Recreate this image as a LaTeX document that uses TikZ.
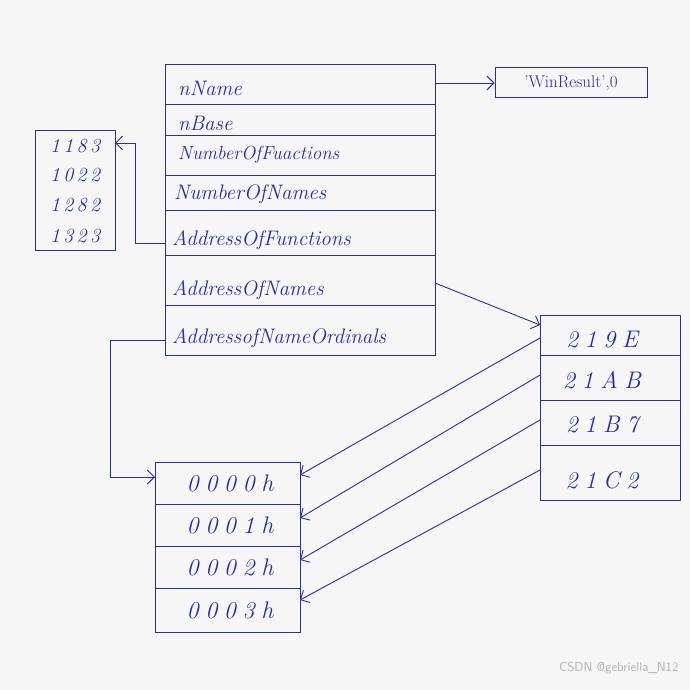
\documentclass[tikz,border=0pt]{standalone}
\usetikzlibrary{arrows.meta}
\definecolor{ink}{RGB}{40,45,160}
\begin{document}
\begin{tikzpicture}[x=1pt,y=-1pt,
  box/.style={draw=ink,line width=1pt},
  lbl/.style={text=ink,font=\itshape\fontsize{21}{23}\selectfont,anchor=west,inner sep=0pt},
  num/.style={text=ink,font=\itshape\fontsize{20}{22}\selectfont,inner sep=0pt},
  arr/.style={draw=ink,line width=0.9pt,-{Straight Barb[length=7pt]}}]
\fill[white!93!gray] (0,0) rectangle (690,690);
\useasboundingbox (0,0) rectangle (690,690);
% main table
\draw[box] (165,65) rectangle (435,355);
\foreach \y in {105,135,175,210,255,305} \draw[box] (165,\y) -- (435,\y);
\node[lbl] (nn) at (178,88) {nName};
\node[lbl] (nb) at (178,123) {nBase};
\node[lbl,font=\itshape\fontsize{19}{21}\selectfont] (nf) at (178,155) {NumberOfFuactions};
\node[lbl] (nm) at (174,194) {NumberOfNames};
\node[lbl] (af) at (172,240) {AddressOfFunctions};
\node[lbl] (an) at (172,290) {AddressOfNames};
\node[lbl] (ao) at (172,338) {AddressofNameOrdinals};
\coordinate (tnR) at (435,83);
\coordinate (afL) at (165,243);
\coordinate (anR) at (435,283);
\coordinate (aoL) at (165,340);
% winresult
\node[box,text=ink,minimum width=152pt,minimum height=30pt,font=\fontsize{17}{19}\selectfont] (wr) at (571,83) {'WinResult',0};
\draw[arr] (tnR) -- (wr.west);
% left box
\draw[box] (35,130) rectangle (115,250);
\node[num] (l1) at (75,146) {1\,1\,8\,3};
\node[num] (l2) at (75,175) {1\,0\,2\,2};
\node[num] (l3) at (75,205) {1\,2\,8\,2};
\node[num] (l4) at (75,236) {1\,3\,2\,3};
\coordinate (lbR) at (115,143);
\draw[arr] (afL) -- (135,243) -- (135,143) -- (lbR);
% right box
\draw[box] (540,315) rectangle (680,500);
\foreach \y in {355,400,445} \draw[box] (540,\y) -- (680,\y);
\node[num,font=\itshape\fontsize{24}{26}\selectfont] (r1) at (602,340) {2\;1\;9\;E};
\node[num,font=\itshape\fontsize{24}{26}\selectfont] (r2) at (602,380) {2\;1\;A\;B};
\node[num,font=\itshape\fontsize{24}{26}\selectfont] (r3) at (602,425) {2\;1\;B\;7};
\node[num,font=\itshape\fontsize{24}{26}\selectfont] (r4) at (602,480) {2\;1\;C\;2};
\coordinate (rt) at (540,325);
\draw[arr] (anR) -- (rt);
% bottom box
\draw[box] (155,462) rectangle (300,632);
\foreach \y in {504,546,588} \draw[box] (155,\y) -- (300,\y);
\node[num,font=\itshape\fontsize{24}{26}\selectfont] (b1) at (230,483) {0\;0\;0\;0\;h};
\node[num,font=\itshape\fontsize{24}{26}\selectfont] (b2) at (230,525) {0\;0\;0\;1\;h};
\node[num,font=\itshape\fontsize{24}{26}\selectfont] (b3) at (230,567) {0\;0\;0\;2\;h};
\node[num,font=\itshape\fontsize{24}{26}\selectfont] (b4) at (230,610) {0\;0\;0\;3\;h};
\coordinate (bL) at (155,477);
\draw[arr] (aoL) -- (110,340) -- (110,477) -- (bL);
\draw[arr] (540,338) -- (300,475);
\draw[arr] (540,375) -- (300,518);
\draw[arr] (540,420) -- (300,560);
\draw[arr] (540,470) -- (300,600);
\node[text=gray!60,font=\sffamily\fontsize{13}{15}\selectfont,anchor=east] (wm) at (682,668) {CSDN @gebriella\_N12};
\end{tikzpicture}
\end{document}
